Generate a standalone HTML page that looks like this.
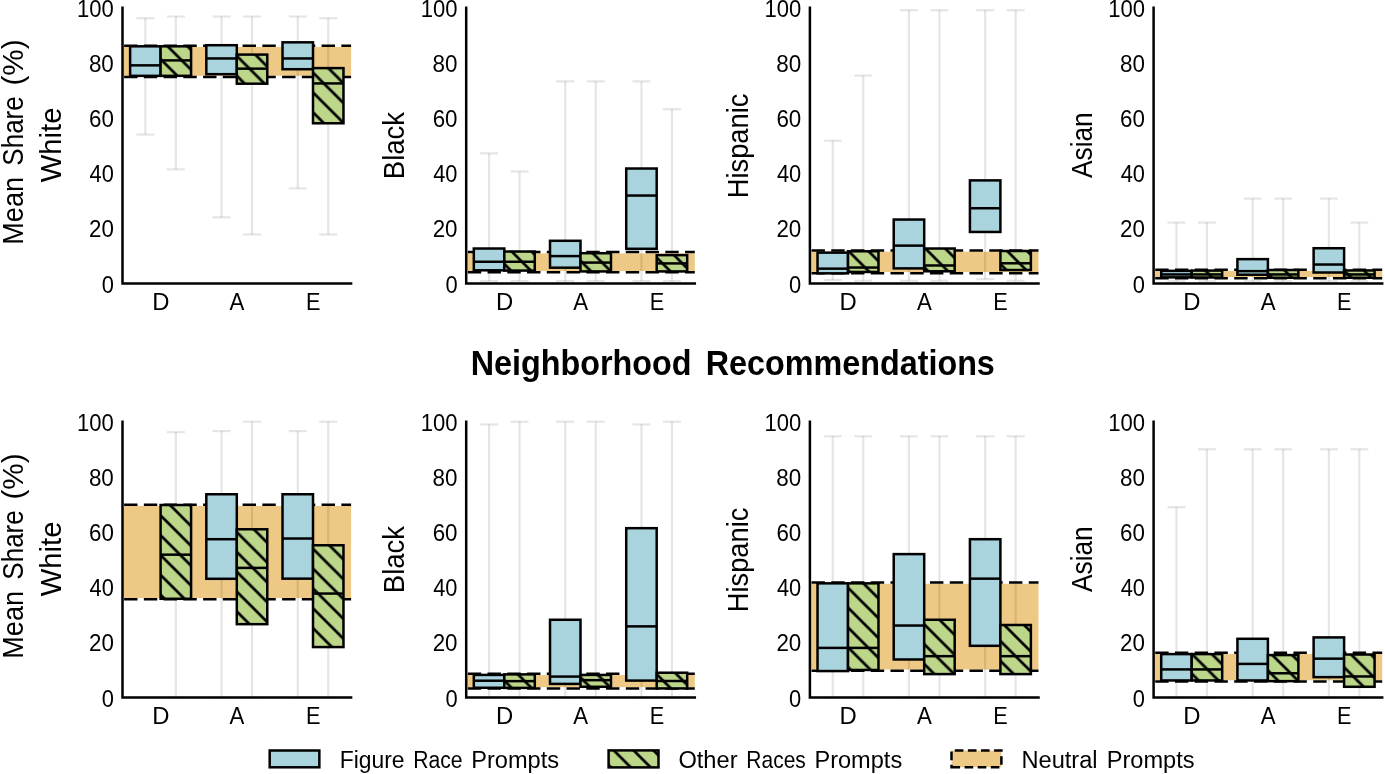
<!DOCTYPE html>
<html><head><meta charset="utf-8"><title>Neighborhood Recommendations</title>
<style>
html,body{margin:0;padding:0;background:#fff;}
body{width:1385px;height:774px;overflow:hidden;}
svg{display:block;will-change:transform;}
text{font-family:'Liberation Sans', sans-serif;fill:#000;}
.t{font-family:'Liberation Sans', sans-serif;font-size:24px;fill:#000;}
.yl{font-family:'Liberation Sans', sans-serif;font-size:28px;fill:#000;}
.lg{font-family:'Liberation Sans', sans-serif;font-size:23px;fill:#000;}
.title{font-family:'Liberation Sans', sans-serif;font-size:33px;font-weight:bold;fill:#000;}
</style></head><body>
<svg width="1385" height="774" viewBox="0 0 1385 774">
<defs><pattern id="hatch" patternUnits="userSpaceOnUse" x="2.3" y="0" width="19.84" height="19.84"><path d="M-4 -4L23.84 23.84 M-4 15.84L4 23.84 M15.84 -4L23.84 4" stroke="#000" stroke-width="2.7" fill="none"/></pattern></defs>
<rect width="1385" height="774" fill="#fff"/>
<rect x="122.5" y="47.02" width="228.6" height="28.81" fill="#edc985"/>
<path d="M145.36 134.59V18.18" stroke="rgba(0,0,0,0.1)" stroke-width="2.2" fill="none"/>
<path d="M136.36 18.18H154.36" stroke="rgba(0,0,0,0.1)" stroke-width="2.2" fill="none"/>
<path d="M136.36 134.59H154.36" stroke="rgba(0,0,0,0.1)" stroke-width="2.2" fill="none"/>
<path d="M175.84 169.35V16.53" stroke="rgba(0,0,0,0.1)" stroke-width="2.2" fill="none"/>
<path d="M166.84 16.53H184.84" stroke="rgba(0,0,0,0.1)" stroke-width="2.2" fill="none"/>
<path d="M166.84 169.35H184.84" stroke="rgba(0,0,0,0.1)" stroke-width="2.2" fill="none"/>
<path d="M221.56 217.35V16.53" stroke="rgba(0,0,0,0.1)" stroke-width="2.2" fill="none"/>
<path d="M212.56 16.53H230.56" stroke="rgba(0,0,0,0.1)" stroke-width="2.2" fill="none"/>
<path d="M212.56 217.35H230.56" stroke="rgba(0,0,0,0.1)" stroke-width="2.2" fill="none"/>
<path d="M252.04 234.45V16.53" stroke="rgba(0,0,0,0.1)" stroke-width="2.2" fill="none"/>
<path d="M243.04 16.53H261.04" stroke="rgba(0,0,0,0.1)" stroke-width="2.2" fill="none"/>
<path d="M243.04 234.45H261.04" stroke="rgba(0,0,0,0.1)" stroke-width="2.2" fill="none"/>
<path d="M297.76 188.38V16.53" stroke="rgba(0,0,0,0.1)" stroke-width="2.2" fill="none"/>
<path d="M288.76 16.53H306.76" stroke="rgba(0,0,0,0.1)" stroke-width="2.2" fill="none"/>
<path d="M288.76 188.38H306.76" stroke="rgba(0,0,0,0.1)" stroke-width="2.2" fill="none"/>
<path d="M328.24 234.45V18.18" stroke="rgba(0,0,0,0.1)" stroke-width="2.2" fill="none"/>
<path d="M319.24 18.18H337.24" stroke="rgba(0,0,0,0.1)" stroke-width="2.2" fill="none"/>
<path d="M319.24 234.45H337.24" stroke="rgba(0,0,0,0.1)" stroke-width="2.2" fill="none"/>
<line x1="124.1" y1="45.77" x2="351.1" y2="45.77" stroke="#000" stroke-width="2.5" stroke-dasharray="13.4 6.35"/>
<line x1="124.1" y1="77.08" x2="351.1" y2="77.08" stroke="#000" stroke-width="2.5" stroke-dasharray="13.4 6.35"/>
<rect x="130.12" y="46.32" width="30.48" height="29.52" fill="#a9d4de"/>
<rect x="130.12" y="46.32" width="30.48" height="29.52" fill="none" stroke="#000" stroke-width="2.5"/>
<line x1="130.12" y1="65.35" x2="160.6" y2="65.35" stroke="#000" stroke-width="2.5"/>
<rect x="160.6" y="46.32" width="30.48" height="29.52" fill="#bcd68a"/>
<rect x="160.6" y="46.32" width="30.48" height="29.52" fill="url(#hatch)"/>
<rect x="160.6" y="46.32" width="30.48" height="29.52" fill="none" stroke="#000" stroke-width="2.5"/>
<line x1="160.6" y1="60.39" x2="191.08" y2="60.39" stroke="#000" stroke-width="2.5"/>
<rect x="206.32" y="45.22" width="30.48" height="28.96" fill="#a9d4de"/>
<rect x="206.32" y="45.22" width="30.48" height="28.96" fill="none" stroke="#000" stroke-width="2.5"/>
<line x1="206.32" y1="58.46" x2="236.8" y2="58.46" stroke="#000" stroke-width="2.5"/>
<rect x="236.8" y="54.59" width="30.48" height="29.1" fill="#bcd68a"/>
<rect x="236.8" y="54.59" width="30.48" height="29.1" fill="url(#hatch)"/>
<rect x="236.8" y="54.59" width="30.48" height="29.1" fill="none" stroke="#000" stroke-width="2.5"/>
<line x1="236.8" y1="68.66" x2="267.28" y2="68.66" stroke="#000" stroke-width="2.5"/>
<rect x="282.52" y="42.32" width="30.48" height="26.9" fill="#a9d4de"/>
<rect x="282.52" y="42.32" width="30.48" height="26.9" fill="none" stroke="#000" stroke-width="2.5"/>
<line x1="282.52" y1="58.46" x2="313" y2="58.46" stroke="#000" stroke-width="2.5"/>
<rect x="313" y="68.11" width="30.48" height="55.17" fill="#bcd68a"/>
<rect x="313" y="68.11" width="30.48" height="55.17" fill="url(#hatch)"/>
<rect x="313" y="68.11" width="30.48" height="55.17" fill="none" stroke="#000" stroke-width="2.5"/>
<line x1="313" y1="83.42" x2="343.48" y2="83.42" stroke="#000" stroke-width="2.5"/>
<path d="M122.5 7.7V283.55H351.1" stroke="#000" stroke-width="2.5" fill="none" stroke-linecap="square"/>
<text transform="translate(101.72 292.6) scale(0.8934 1)" font-size="24.51">0</text>
<text transform="translate(88.98 237.43) scale(0.9116 1)" font-size="24.51">20</text>
<text transform="translate(89.55 182.26) scale(0.8899 1)" font-size="24.51">40</text>
<text transform="translate(88.98 127.09) scale(0.9116 1)" font-size="24.51">60</text>
<text transform="translate(88.89 71.92) scale(0.9151 1)" font-size="24.51">80</text>
<text transform="translate(77.05 16.75) scale(0.9001 1)" font-size="24.51">100</text>
<text transform="translate(152.19 309.8) scale(0.9744 1)" font-size="24.49">D</text>
<text transform="translate(229.59 309.8) scale(0.9094 1)" font-size="24.49">A</text>
<text transform="translate(305.94 309.8) scale(0.8877 1)" font-size="24.49">E</text>
<text transform="translate(22.9 244.66) rotate(-90) scale(0.9107 1)" font-size="29.7">Mean</text>
<text transform="translate(22.9 165.67) rotate(-90) scale(0.8757 1)" font-size="29.7">Share</text>
<text transform="translate(22.9 85.58) rotate(-90) scale(0.9995 1)" font-size="29.7">(%)</text>
<text transform="translate(60.8 182.25) rotate(-90) scale(0.9839 1)" font-size="29.7">White</text>
<rect x="466.2" y="253.35" width="228.6" height="17.64" fill="#edc985"/>
<path d="M489.06 281.07V153.35" stroke="rgba(0,0,0,0.1)" stroke-width="2.2" fill="none"/>
<path d="M480.06 153.35H498.06" stroke="rgba(0,0,0,0.1)" stroke-width="2.2" fill="none"/>
<path d="M480.06 281.07H498.06" stroke="rgba(0,0,0,0.1)" stroke-width="2.2" fill="none"/>
<path d="M519.54 281.07V171.55" stroke="rgba(0,0,0,0.1)" stroke-width="2.2" fill="none"/>
<path d="M510.54 171.55H528.54" stroke="rgba(0,0,0,0.1)" stroke-width="2.2" fill="none"/>
<path d="M510.54 281.07H528.54" stroke="rgba(0,0,0,0.1)" stroke-width="2.2" fill="none"/>
<path d="M565.26 281.07V81.35" stroke="rgba(0,0,0,0.1)" stroke-width="2.2" fill="none"/>
<path d="M556.26 81.35H574.26" stroke="rgba(0,0,0,0.1)" stroke-width="2.2" fill="none"/>
<path d="M556.26 281.07H574.26" stroke="rgba(0,0,0,0.1)" stroke-width="2.2" fill="none"/>
<path d="M595.74 281.07V81.35" stroke="rgba(0,0,0,0.1)" stroke-width="2.2" fill="none"/>
<path d="M586.74 81.35H604.74" stroke="rgba(0,0,0,0.1)" stroke-width="2.2" fill="none"/>
<path d="M586.74 281.07H604.74" stroke="rgba(0,0,0,0.1)" stroke-width="2.2" fill="none"/>
<path d="M641.46 281.07V81.35" stroke="rgba(0,0,0,0.1)" stroke-width="2.2" fill="none"/>
<path d="M632.46 81.35H650.46" stroke="rgba(0,0,0,0.1)" stroke-width="2.2" fill="none"/>
<path d="M632.46 281.07H650.46" stroke="rgba(0,0,0,0.1)" stroke-width="2.2" fill="none"/>
<path d="M671.94 281.07V109.21" stroke="rgba(0,0,0,0.1)" stroke-width="2.2" fill="none"/>
<path d="M662.94 109.21H680.94" stroke="rgba(0,0,0,0.1)" stroke-width="2.2" fill="none"/>
<path d="M662.94 281.07H680.94" stroke="rgba(0,0,0,0.1)" stroke-width="2.2" fill="none"/>
<line x1="467.8" y1="252.1" x2="694.8" y2="252.1" stroke="#000" stroke-width="2.5" stroke-dasharray="13.4 6.35"/>
<line x1="467.8" y1="272.24" x2="694.8" y2="272.24" stroke="#000" stroke-width="2.5" stroke-dasharray="13.4 6.35"/>
<rect x="473.82" y="248.52" width="30.48" height="21.79" fill="#a9d4de"/>
<rect x="473.82" y="248.52" width="30.48" height="21.79" fill="none" stroke="#000" stroke-width="2.5"/>
<line x1="473.82" y1="261.76" x2="504.3" y2="261.76" stroke="#000" stroke-width="2.5"/>
<rect x="504.3" y="251.55" width="30.48" height="19.03" fill="#bcd68a"/>
<rect x="504.3" y="251.55" width="30.48" height="19.03" fill="url(#hatch)"/>
<rect x="504.3" y="251.55" width="30.48" height="19.03" fill="none" stroke="#000" stroke-width="2.5"/>
<line x1="504.3" y1="261.76" x2="534.78" y2="261.76" stroke="#000" stroke-width="2.5"/>
<rect x="550.02" y="240.79" width="30.48" height="26.9" fill="#a9d4de"/>
<rect x="550.02" y="240.79" width="30.48" height="26.9" fill="none" stroke="#000" stroke-width="2.5"/>
<line x1="550.02" y1="256.1" x2="580.5" y2="256.1" stroke="#000" stroke-width="2.5"/>
<rect x="580.5" y="253.21" width="30.48" height="18.21" fill="#bcd68a"/>
<rect x="580.5" y="253.21" width="30.48" height="18.21" fill="url(#hatch)"/>
<rect x="580.5" y="253.21" width="30.48" height="18.21" fill="none" stroke="#000" stroke-width="2.5"/>
<line x1="580.5" y1="262.59" x2="610.98" y2="262.59" stroke="#000" stroke-width="2.5"/>
<rect x="626.22" y="168.52" width="30.48" height="80.27" fill="#a9d4de"/>
<rect x="626.22" y="168.52" width="30.48" height="80.27" fill="none" stroke="#000" stroke-width="2.5"/>
<line x1="626.22" y1="195.55" x2="656.7" y2="195.55" stroke="#000" stroke-width="2.5"/>
<rect x="656.7" y="255.14" width="30.48" height="16.28" fill="#bcd68a"/>
<rect x="656.7" y="255.14" width="30.48" height="16.28" fill="url(#hatch)"/>
<rect x="656.7" y="255.14" width="30.48" height="16.28" fill="none" stroke="#000" stroke-width="2.5"/>
<line x1="656.7" y1="263.41" x2="687.18" y2="263.41" stroke="#000" stroke-width="2.5"/>
<path d="M466.2 7.7V283.55H694.8" stroke="#000" stroke-width="2.5" fill="none" stroke-linecap="square"/>
<text transform="translate(445.42 292.6) scale(0.8934 1)" font-size="24.51">0</text>
<text transform="translate(432.68 237.43) scale(0.9116 1)" font-size="24.51">20</text>
<text transform="translate(433.25 182.26) scale(0.8899 1)" font-size="24.51">40</text>
<text transform="translate(432.68 127.09) scale(0.9116 1)" font-size="24.51">60</text>
<text transform="translate(432.59 71.92) scale(0.9151 1)" font-size="24.51">80</text>
<text transform="translate(420.75 16.75) scale(0.9001 1)" font-size="24.51">100</text>
<text transform="translate(495.89 309.8) scale(0.9744 1)" font-size="24.49">D</text>
<text transform="translate(573.29 309.8) scale(0.9094 1)" font-size="24.49">A</text>
<text transform="translate(649.64 309.8) scale(0.8877 1)" font-size="24.49">E</text>
<text transform="translate(404.2 179.2) rotate(-90) scale(0.9268 1)" font-size="29.7">Black</text>
<rect x="809.9" y="251.7" width="228.6" height="20.4" fill="#edc985"/>
<path d="M832.76 279.96V140.66" stroke="rgba(0,0,0,0.1)" stroke-width="2.2" fill="none"/>
<path d="M823.76 140.66H841.76" stroke="rgba(0,0,0,0.1)" stroke-width="2.2" fill="none"/>
<path d="M823.76 279.96H841.76" stroke="rgba(0,0,0,0.1)" stroke-width="2.2" fill="none"/>
<path d="M863.24 280.79V75.56" stroke="rgba(0,0,0,0.1)" stroke-width="2.2" fill="none"/>
<path d="M854.24 75.56H872.24" stroke="rgba(0,0,0,0.1)" stroke-width="2.2" fill="none"/>
<path d="M854.24 280.79H872.24" stroke="rgba(0,0,0,0.1)" stroke-width="2.2" fill="none"/>
<path d="M908.96 280.79V10.18" stroke="rgba(0,0,0,0.1)" stroke-width="2.2" fill="none"/>
<path d="M899.96 10.18H917.96" stroke="rgba(0,0,0,0.1)" stroke-width="2.2" fill="none"/>
<path d="M899.96 280.79H917.96" stroke="rgba(0,0,0,0.1)" stroke-width="2.2" fill="none"/>
<path d="M939.44 280.79V10.18" stroke="rgba(0,0,0,0.1)" stroke-width="2.2" fill="none"/>
<path d="M930.44 10.18H948.44" stroke="rgba(0,0,0,0.1)" stroke-width="2.2" fill="none"/>
<path d="M930.44 280.79H948.44" stroke="rgba(0,0,0,0.1)" stroke-width="2.2" fill="none"/>
<path d="M985.16 279.14V10.18" stroke="rgba(0,0,0,0.1)" stroke-width="2.2" fill="none"/>
<path d="M976.16 10.18H994.16" stroke="rgba(0,0,0,0.1)" stroke-width="2.2" fill="none"/>
<path d="M976.16 279.14H994.16" stroke="rgba(0,0,0,0.1)" stroke-width="2.2" fill="none"/>
<path d="M1015.64 280.79V10.18" stroke="rgba(0,0,0,0.1)" stroke-width="2.2" fill="none"/>
<path d="M1006.64 10.18H1024.64" stroke="rgba(0,0,0,0.1)" stroke-width="2.2" fill="none"/>
<path d="M1006.64 280.79H1024.64" stroke="rgba(0,0,0,0.1)" stroke-width="2.2" fill="none"/>
<line x1="811.5" y1="250.45" x2="1038.5" y2="250.45" stroke="#000" stroke-width="2.5" stroke-dasharray="13.4 6.35"/>
<line x1="811.5" y1="273.34" x2="1038.5" y2="273.34" stroke="#000" stroke-width="2.5" stroke-dasharray="13.4 6.35"/>
<rect x="817.52" y="252.65" width="30.48" height="20.69" fill="#a9d4de"/>
<rect x="817.52" y="252.65" width="30.48" height="20.69" fill="none" stroke="#000" stroke-width="2.5"/>
<line x1="817.52" y1="268.65" x2="848" y2="268.65" stroke="#000" stroke-width="2.5"/>
<rect x="848" y="251.28" width="30.48" height="20.69" fill="#bcd68a"/>
<rect x="848" y="251.28" width="30.48" height="20.69" fill="url(#hatch)"/>
<rect x="848" y="251.28" width="30.48" height="20.69" fill="none" stroke="#000" stroke-width="2.5"/>
<line x1="848" y1="267.55" x2="878.48" y2="267.55" stroke="#000" stroke-width="2.5"/>
<rect x="893.72" y="219.55" width="30.48" height="48.83" fill="#a9d4de"/>
<rect x="893.72" y="219.55" width="30.48" height="48.83" fill="none" stroke="#000" stroke-width="2.5"/>
<line x1="893.72" y1="245.62" x2="924.2" y2="245.62" stroke="#000" stroke-width="2.5"/>
<rect x="924.2" y="248.52" width="30.48" height="22.76" fill="#bcd68a"/>
<rect x="924.2" y="248.52" width="30.48" height="22.76" fill="url(#hatch)"/>
<rect x="924.2" y="248.52" width="30.48" height="22.76" fill="none" stroke="#000" stroke-width="2.5"/>
<line x1="924.2" y1="265.48" x2="954.68" y2="265.48" stroke="#000" stroke-width="2.5"/>
<rect x="969.92" y="180.38" width="30.48" height="51.58" fill="#a9d4de"/>
<rect x="969.92" y="180.38" width="30.48" height="51.58" fill="none" stroke="#000" stroke-width="2.5"/>
<line x1="969.92" y1="208.24" x2="1000.4" y2="208.24" stroke="#000" stroke-width="2.5"/>
<rect x="1000.4" y="251" width="30.48" height="19.03" fill="#bcd68a"/>
<rect x="1000.4" y="251" width="30.48" height="19.03" fill="url(#hatch)"/>
<rect x="1000.4" y="251" width="30.48" height="19.03" fill="none" stroke="#000" stroke-width="2.5"/>
<line x1="1000.4" y1="263.28" x2="1030.88" y2="263.28" stroke="#000" stroke-width="2.5"/>
<path d="M809.9 7.7V283.55H1038.5" stroke="#000" stroke-width="2.5" fill="none" stroke-linecap="square"/>
<text transform="translate(789.12 292.6) scale(0.8934 1)" font-size="24.51">0</text>
<text transform="translate(776.38 237.43) scale(0.9116 1)" font-size="24.51">20</text>
<text transform="translate(776.95 182.26) scale(0.8899 1)" font-size="24.51">40</text>
<text transform="translate(776.38 127.09) scale(0.9116 1)" font-size="24.51">60</text>
<text transform="translate(776.29 71.92) scale(0.9151 1)" font-size="24.51">80</text>
<text transform="translate(764.45 16.75) scale(0.9001 1)" font-size="24.51">100</text>
<text transform="translate(839.59 309.8) scale(0.9744 1)" font-size="24.49">D</text>
<text transform="translate(916.99 309.8) scale(0.9094 1)" font-size="24.49">A</text>
<text transform="translate(993.34 309.8) scale(0.8877 1)" font-size="24.49">E</text>
<text transform="translate(747.9 198.18) rotate(-90) scale(0.9180 1)" font-size="29.7">Hispanic</text>
<rect x="1153.6" y="271.01" width="228.6" height="6.05" fill="#edc985"/>
<path d="M1176.46 281.34V222.59" stroke="rgba(0,0,0,0.1)" stroke-width="2.2" fill="none"/>
<path d="M1167.46 222.59H1185.46" stroke="rgba(0,0,0,0.1)" stroke-width="2.2" fill="none"/>
<path d="M1167.46 281.34H1185.46" stroke="rgba(0,0,0,0.1)" stroke-width="2.2" fill="none"/>
<path d="M1206.94 281.34V222.59" stroke="rgba(0,0,0,0.1)" stroke-width="2.2" fill="none"/>
<path d="M1197.94 222.59H1215.94" stroke="rgba(0,0,0,0.1)" stroke-width="2.2" fill="none"/>
<path d="M1197.94 281.34H1215.94" stroke="rgba(0,0,0,0.1)" stroke-width="2.2" fill="none"/>
<path d="M1252.66 281.34V198.59" stroke="rgba(0,0,0,0.1)" stroke-width="2.2" fill="none"/>
<path d="M1243.66 198.59H1261.66" stroke="rgba(0,0,0,0.1)" stroke-width="2.2" fill="none"/>
<path d="M1243.66 281.34H1261.66" stroke="rgba(0,0,0,0.1)" stroke-width="2.2" fill="none"/>
<path d="M1283.14 281.34V198.59" stroke="rgba(0,0,0,0.1)" stroke-width="2.2" fill="none"/>
<path d="M1274.14 198.59H1292.14" stroke="rgba(0,0,0,0.1)" stroke-width="2.2" fill="none"/>
<path d="M1274.14 281.34H1292.14" stroke="rgba(0,0,0,0.1)" stroke-width="2.2" fill="none"/>
<path d="M1328.86 281.34V198.59" stroke="rgba(0,0,0,0.1)" stroke-width="2.2" fill="none"/>
<path d="M1319.86 198.59H1337.86" stroke="rgba(0,0,0,0.1)" stroke-width="2.2" fill="none"/>
<path d="M1319.86 281.34H1337.86" stroke="rgba(0,0,0,0.1)" stroke-width="2.2" fill="none"/>
<path d="M1359.34 281.34V222.59" stroke="rgba(0,0,0,0.1)" stroke-width="2.2" fill="none"/>
<path d="M1350.34 222.59H1368.34" stroke="rgba(0,0,0,0.1)" stroke-width="2.2" fill="none"/>
<path d="M1350.34 281.34H1368.34" stroke="rgba(0,0,0,0.1)" stroke-width="2.2" fill="none"/>
<line x1="1155.2" y1="269.76" x2="1382.2" y2="269.76" stroke="#000" stroke-width="2.5" stroke-dasharray="13.4 6.35"/>
<line x1="1155.2" y1="278.31" x2="1382.2" y2="278.31" stroke="#000" stroke-width="2.5" stroke-dasharray="13.4 6.35"/>
<rect x="1161.22" y="270.86" width="30.48" height="6.48" fill="#a9d4de"/>
<rect x="1161.22" y="270.86" width="30.48" height="6.48" fill="none" stroke="#000" stroke-width="2.5"/>
<line x1="1161.22" y1="274.45" x2="1191.7" y2="274.45" stroke="#000" stroke-width="2.5"/>
<rect x="1191.7" y="270.59" width="30.48" height="6.9" fill="#bcd68a"/>
<rect x="1191.7" y="270.59" width="30.48" height="6.9" fill="url(#hatch)"/>
<rect x="1191.7" y="270.59" width="30.48" height="6.9" fill="none" stroke="#000" stroke-width="2.5"/>
<line x1="1191.7" y1="274.45" x2="1222.18" y2="274.45" stroke="#000" stroke-width="2.5"/>
<rect x="1237.42" y="259.14" width="30.48" height="15.59" fill="#a9d4de"/>
<rect x="1237.42" y="259.14" width="30.48" height="15.59" fill="none" stroke="#000" stroke-width="2.5"/>
<line x1="1237.42" y1="271.14" x2="1267.9" y2="271.14" stroke="#000" stroke-width="2.5"/>
<rect x="1267.9" y="270.03" width="30.48" height="7.72" fill="#bcd68a"/>
<rect x="1267.9" y="270.03" width="30.48" height="7.72" fill="url(#hatch)"/>
<rect x="1267.9" y="270.03" width="30.48" height="7.72" fill="none" stroke="#000" stroke-width="2.5"/>
<line x1="1267.9" y1="274.45" x2="1298.38" y2="274.45" stroke="#000" stroke-width="2.5"/>
<rect x="1313.62" y="248.24" width="30.48" height="24.27" fill="#a9d4de"/>
<rect x="1313.62" y="248.24" width="30.48" height="24.27" fill="none" stroke="#000" stroke-width="2.5"/>
<line x1="1313.62" y1="264.52" x2="1344.1" y2="264.52" stroke="#000" stroke-width="2.5"/>
<rect x="1344.1" y="270.45" width="30.48" height="7.31" fill="#bcd68a"/>
<rect x="1344.1" y="270.45" width="30.48" height="7.31" fill="url(#hatch)"/>
<rect x="1344.1" y="270.45" width="30.48" height="7.31" fill="none" stroke="#000" stroke-width="2.5"/>
<line x1="1344.1" y1="274.45" x2="1374.58" y2="274.45" stroke="#000" stroke-width="2.5"/>
<path d="M1153.6 7.7V283.55H1382.2" stroke="#000" stroke-width="2.5" fill="none" stroke-linecap="square"/>
<text transform="translate(1132.82 292.6) scale(0.8934 1)" font-size="24.51">0</text>
<text transform="translate(1120.08 237.43) scale(0.9116 1)" font-size="24.51">20</text>
<text transform="translate(1120.65 182.26) scale(0.8899 1)" font-size="24.51">40</text>
<text transform="translate(1120.08 127.09) scale(0.9116 1)" font-size="24.51">60</text>
<text transform="translate(1119.99 71.92) scale(0.9151 1)" font-size="24.51">80</text>
<text transform="translate(1108.15 16.75) scale(0.9001 1)" font-size="24.51">100</text>
<text transform="translate(1183.29 309.8) scale(0.9744 1)" font-size="24.49">D</text>
<text transform="translate(1260.69 309.8) scale(0.9094 1)" font-size="24.49">A</text>
<text transform="translate(1337.04 309.8) scale(0.8877 1)" font-size="24.49">E</text>
<text transform="translate(1091.6 178.03) rotate(-90) scale(0.8854 1)" font-size="29.7">Asian</text>
<rect x="122.5" y="505.98" width="228.6" height="92.12" fill="#edc985"/>
<path d="M175.84 697.55V432.18" stroke="rgba(0,0,0,0.1)" stroke-width="2.2" fill="none"/>
<path d="M166.84 432.18H184.84" stroke="rgba(0,0,0,0.1)" stroke-width="2.2" fill="none"/>
<path d="M166.84 697.55H184.84" stroke="rgba(0,0,0,0.1)" stroke-width="2.2" fill="none"/>
<path d="M221.56 697.55V431.08" stroke="rgba(0,0,0,0.1)" stroke-width="2.2" fill="none"/>
<path d="M212.56 431.08H230.56" stroke="rgba(0,0,0,0.1)" stroke-width="2.2" fill="none"/>
<path d="M212.56 697.55H230.56" stroke="rgba(0,0,0,0.1)" stroke-width="2.2" fill="none"/>
<path d="M252.04 697.55V421.7" stroke="rgba(0,0,0,0.1)" stroke-width="2.2" fill="none"/>
<path d="M243.04 421.7H261.04" stroke="rgba(0,0,0,0.1)" stroke-width="2.2" fill="none"/>
<path d="M243.04 697.55H261.04" stroke="rgba(0,0,0,0.1)" stroke-width="2.2" fill="none"/>
<path d="M297.76 697.55V431.08" stroke="rgba(0,0,0,0.1)" stroke-width="2.2" fill="none"/>
<path d="M288.76 431.08H306.76" stroke="rgba(0,0,0,0.1)" stroke-width="2.2" fill="none"/>
<path d="M288.76 697.55H306.76" stroke="rgba(0,0,0,0.1)" stroke-width="2.2" fill="none"/>
<path d="M328.24 697.55V421.7" stroke="rgba(0,0,0,0.1)" stroke-width="2.2" fill="none"/>
<path d="M319.24 421.7H337.24" stroke="rgba(0,0,0,0.1)" stroke-width="2.2" fill="none"/>
<path d="M319.24 697.55H337.24" stroke="rgba(0,0,0,0.1)" stroke-width="2.2" fill="none"/>
<line x1="124.1" y1="504.73" x2="351.1" y2="504.73" stroke="#000" stroke-width="2.5" stroke-dasharray="13.4 6.35"/>
<line x1="124.1" y1="599.35" x2="351.1" y2="599.35" stroke="#000" stroke-width="2.5" stroke-dasharray="13.4 6.35"/>
<rect x="160.6" y="505.01" width="30.48" height="93.79" fill="#bcd68a"/>
<rect x="160.6" y="505.01" width="30.48" height="93.79" fill="url(#hatch)"/>
<rect x="160.6" y="505.01" width="30.48" height="93.79" fill="none" stroke="#000" stroke-width="2.5"/>
<line x1="160.6" y1="554.66" x2="191.08" y2="554.66" stroke="#000" stroke-width="2.5"/>
<rect x="206.32" y="494.25" width="30.48" height="84.55" fill="#a9d4de"/>
<rect x="206.32" y="494.25" width="30.48" height="84.55" fill="none" stroke="#000" stroke-width="2.5"/>
<line x1="206.32" y1="539.21" x2="236.8" y2="539.21" stroke="#000" stroke-width="2.5"/>
<rect x="236.8" y="529.28" width="30.48" height="94.89" fill="#bcd68a"/>
<rect x="236.8" y="529.28" width="30.48" height="94.89" fill="url(#hatch)"/>
<rect x="236.8" y="529.28" width="30.48" height="94.89" fill="none" stroke="#000" stroke-width="2.5"/>
<line x1="236.8" y1="567.9" x2="267.28" y2="567.9" stroke="#000" stroke-width="2.5"/>
<rect x="282.52" y="494.25" width="30.48" height="84.41" fill="#a9d4de"/>
<rect x="282.52" y="494.25" width="30.48" height="84.41" fill="none" stroke="#000" stroke-width="2.5"/>
<line x1="282.52" y1="538.52" x2="313" y2="538.52" stroke="#000" stroke-width="2.5"/>
<rect x="313" y="545.28" width="30.48" height="101.79" fill="#bcd68a"/>
<rect x="313" y="545.28" width="30.48" height="101.79" fill="url(#hatch)"/>
<rect x="313" y="545.28" width="30.48" height="101.79" fill="none" stroke="#000" stroke-width="2.5"/>
<line x1="313" y1="593.55" x2="343.48" y2="593.55" stroke="#000" stroke-width="2.5"/>
<path d="M122.5 421.7V697.55H351.1" stroke="#000" stroke-width="2.5" fill="none" stroke-linecap="square"/>
<text transform="translate(101.72 706.6) scale(0.8934 1)" font-size="24.51">0</text>
<text transform="translate(88.98 651.43) scale(0.9116 1)" font-size="24.51">20</text>
<text transform="translate(89.55 596.26) scale(0.8899 1)" font-size="24.51">40</text>
<text transform="translate(88.98 541.09) scale(0.9116 1)" font-size="24.51">60</text>
<text transform="translate(88.89 485.92) scale(0.9151 1)" font-size="24.51">80</text>
<text transform="translate(77.05 430.75) scale(0.9001 1)" font-size="24.51">100</text>
<text transform="translate(152.19 723.8) scale(0.9744 1)" font-size="24.49">D</text>
<text transform="translate(229.59 723.8) scale(0.9094 1)" font-size="24.49">A</text>
<text transform="translate(305.94 723.8) scale(0.8877 1)" font-size="24.49">E</text>
<text transform="translate(22.9 658.66) rotate(-90) scale(0.9107 1)" font-size="29.7">Mean</text>
<text transform="translate(22.9 579.67) rotate(-90) scale(0.8757 1)" font-size="29.7">Share</text>
<text transform="translate(22.9 499.58) rotate(-90) scale(0.9995 1)" font-size="29.7">(%)</text>
<text transform="translate(60.8 596.25) rotate(-90) scale(0.9839 1)" font-size="29.7">White</text>
<rect x="466.2" y="675.08" width="228.6" height="12.12" fill="#edc985"/>
<path d="M489.06 697.55V424.46" stroke="rgba(0,0,0,0.1)" stroke-width="2.2" fill="none"/>
<path d="M480.06 424.46H498.06" stroke="rgba(0,0,0,0.1)" stroke-width="2.2" fill="none"/>
<path d="M480.06 697.55H498.06" stroke="rgba(0,0,0,0.1)" stroke-width="2.2" fill="none"/>
<path d="M519.54 697.55V421.7" stroke="rgba(0,0,0,0.1)" stroke-width="2.2" fill="none"/>
<path d="M510.54 421.7H528.54" stroke="rgba(0,0,0,0.1)" stroke-width="2.2" fill="none"/>
<path d="M510.54 697.55H528.54" stroke="rgba(0,0,0,0.1)" stroke-width="2.2" fill="none"/>
<path d="M565.26 697.55V421.7" stroke="rgba(0,0,0,0.1)" stroke-width="2.2" fill="none"/>
<path d="M556.26 421.7H574.26" stroke="rgba(0,0,0,0.1)" stroke-width="2.2" fill="none"/>
<path d="M556.26 697.55H574.26" stroke="rgba(0,0,0,0.1)" stroke-width="2.2" fill="none"/>
<path d="M595.74 697.55V421.7" stroke="rgba(0,0,0,0.1)" stroke-width="2.2" fill="none"/>
<path d="M586.74 421.7H604.74" stroke="rgba(0,0,0,0.1)" stroke-width="2.2" fill="none"/>
<path d="M586.74 697.55H604.74" stroke="rgba(0,0,0,0.1)" stroke-width="2.2" fill="none"/>
<path d="M641.46 697.55V424.46" stroke="rgba(0,0,0,0.1)" stroke-width="2.2" fill="none"/>
<path d="M632.46 424.46H650.46" stroke="rgba(0,0,0,0.1)" stroke-width="2.2" fill="none"/>
<path d="M632.46 697.55H650.46" stroke="rgba(0,0,0,0.1)" stroke-width="2.2" fill="none"/>
<path d="M671.94 697.55V421.7" stroke="rgba(0,0,0,0.1)" stroke-width="2.2" fill="none"/>
<path d="M662.94 421.7H680.94" stroke="rgba(0,0,0,0.1)" stroke-width="2.2" fill="none"/>
<path d="M662.94 697.55H680.94" stroke="rgba(0,0,0,0.1)" stroke-width="2.2" fill="none"/>
<line x1="467.8" y1="673.83" x2="694.8" y2="673.83" stroke="#000" stroke-width="2.5" stroke-dasharray="13.4 6.35"/>
<line x1="467.8" y1="688.45" x2="694.8" y2="688.45" stroke="#000" stroke-width="2.5" stroke-dasharray="13.4 6.35"/>
<rect x="473.82" y="674.93" width="30.48" height="12.83" fill="#a9d4de"/>
<rect x="473.82" y="674.93" width="30.48" height="12.83" fill="none" stroke="#000" stroke-width="2.5"/>
<line x1="473.82" y1="680.72" x2="504.3" y2="680.72" stroke="#000" stroke-width="2.5"/>
<rect x="504.3" y="674.38" width="30.48" height="13.52" fill="#bcd68a"/>
<rect x="504.3" y="674.38" width="30.48" height="13.52" fill="url(#hatch)"/>
<rect x="504.3" y="674.38" width="30.48" height="13.52" fill="none" stroke="#000" stroke-width="2.5"/>
<line x1="504.3" y1="681.14" x2="534.78" y2="681.14" stroke="#000" stroke-width="2.5"/>
<rect x="550.02" y="619.76" width="30.48" height="64.14" fill="#a9d4de"/>
<rect x="550.02" y="619.76" width="30.48" height="64.14" fill="none" stroke="#000" stroke-width="2.5"/>
<line x1="550.02" y1="676.59" x2="580.5" y2="676.59" stroke="#000" stroke-width="2.5"/>
<rect x="580.5" y="674.93" width="30.48" height="11.86" fill="#bcd68a"/>
<rect x="580.5" y="674.93" width="30.48" height="11.86" fill="url(#hatch)"/>
<rect x="580.5" y="674.93" width="30.48" height="11.86" fill="none" stroke="#000" stroke-width="2.5"/>
<line x1="580.5" y1="680.17" x2="610.98" y2="680.17" stroke="#000" stroke-width="2.5"/>
<rect x="626.22" y="528.18" width="30.48" height="152.41" fill="#a9d4de"/>
<rect x="626.22" y="528.18" width="30.48" height="152.41" fill="none" stroke="#000" stroke-width="2.5"/>
<line x1="626.22" y1="626.38" x2="656.7" y2="626.38" stroke="#000" stroke-width="2.5"/>
<rect x="656.7" y="672.72" width="30.48" height="15.72" fill="#bcd68a"/>
<rect x="656.7" y="672.72" width="30.48" height="15.72" fill="url(#hatch)"/>
<rect x="656.7" y="672.72" width="30.48" height="15.72" fill="none" stroke="#000" stroke-width="2.5"/>
<line x1="656.7" y1="681" x2="687.18" y2="681" stroke="#000" stroke-width="2.5"/>
<path d="M466.2 421.7V697.55H694.8" stroke="#000" stroke-width="2.5" fill="none" stroke-linecap="square"/>
<text transform="translate(445.42 706.6) scale(0.8934 1)" font-size="24.51">0</text>
<text transform="translate(432.68 651.43) scale(0.9116 1)" font-size="24.51">20</text>
<text transform="translate(433.25 596.26) scale(0.8899 1)" font-size="24.51">40</text>
<text transform="translate(432.68 541.09) scale(0.9116 1)" font-size="24.51">60</text>
<text transform="translate(432.59 485.92) scale(0.9151 1)" font-size="24.51">80</text>
<text transform="translate(420.75 430.75) scale(0.9001 1)" font-size="24.51">100</text>
<text transform="translate(495.89 723.8) scale(0.9744 1)" font-size="24.49">D</text>
<text transform="translate(573.29 723.8) scale(0.9094 1)" font-size="24.49">A</text>
<text transform="translate(649.64 723.8) scale(0.8877 1)" font-size="24.49">E</text>
<text transform="translate(404.2 593.2) rotate(-90) scale(0.9268 1)" font-size="29.7">Black</text>
<rect x="809.9" y="583.77" width="228.6" height="85.77" fill="#edc985"/>
<path d="M832.76 697.55V436.32" stroke="rgba(0,0,0,0.1)" stroke-width="2.2" fill="none"/>
<path d="M823.76 436.32H841.76" stroke="rgba(0,0,0,0.1)" stroke-width="2.2" fill="none"/>
<path d="M823.76 697.55H841.76" stroke="rgba(0,0,0,0.1)" stroke-width="2.2" fill="none"/>
<path d="M863.24 697.55V436.32" stroke="rgba(0,0,0,0.1)" stroke-width="2.2" fill="none"/>
<path d="M854.24 436.32H872.24" stroke="rgba(0,0,0,0.1)" stroke-width="2.2" fill="none"/>
<path d="M854.24 697.55H872.24" stroke="rgba(0,0,0,0.1)" stroke-width="2.2" fill="none"/>
<path d="M908.96 697.55V436.32" stroke="rgba(0,0,0,0.1)" stroke-width="2.2" fill="none"/>
<path d="M899.96 436.32H917.96" stroke="rgba(0,0,0,0.1)" stroke-width="2.2" fill="none"/>
<path d="M899.96 697.55H917.96" stroke="rgba(0,0,0,0.1)" stroke-width="2.2" fill="none"/>
<path d="M939.44 697.55V436.32" stroke="rgba(0,0,0,0.1)" stroke-width="2.2" fill="none"/>
<path d="M930.44 436.32H948.44" stroke="rgba(0,0,0,0.1)" stroke-width="2.2" fill="none"/>
<path d="M930.44 697.55H948.44" stroke="rgba(0,0,0,0.1)" stroke-width="2.2" fill="none"/>
<path d="M985.16 697.55V436.32" stroke="rgba(0,0,0,0.1)" stroke-width="2.2" fill="none"/>
<path d="M976.16 436.32H994.16" stroke="rgba(0,0,0,0.1)" stroke-width="2.2" fill="none"/>
<path d="M976.16 697.55H994.16" stroke="rgba(0,0,0,0.1)" stroke-width="2.2" fill="none"/>
<path d="M1015.64 697.55V436.32" stroke="rgba(0,0,0,0.1)" stroke-width="2.2" fill="none"/>
<path d="M1006.64 436.32H1024.64" stroke="rgba(0,0,0,0.1)" stroke-width="2.2" fill="none"/>
<path d="M1006.64 697.55H1024.64" stroke="rgba(0,0,0,0.1)" stroke-width="2.2" fill="none"/>
<line x1="811.5" y1="582.52" x2="1038.5" y2="582.52" stroke="#000" stroke-width="2.5" stroke-dasharray="13.4 6.35"/>
<line x1="811.5" y1="670.79" x2="1038.5" y2="670.79" stroke="#000" stroke-width="2.5" stroke-dasharray="13.4 6.35"/>
<rect x="817.52" y="583.35" width="30.48" height="87.72" fill="#a9d4de"/>
<rect x="817.52" y="583.35" width="30.48" height="87.72" fill="none" stroke="#000" stroke-width="2.5"/>
<line x1="817.52" y1="647.9" x2="848" y2="647.9" stroke="#000" stroke-width="2.5"/>
<rect x="848" y="583.35" width="30.48" height="86.62" fill="#bcd68a"/>
<rect x="848" y="583.35" width="30.48" height="86.62" fill="url(#hatch)"/>
<rect x="848" y="583.35" width="30.48" height="86.62" fill="none" stroke="#000" stroke-width="2.5"/>
<line x1="848" y1="647.9" x2="878.48" y2="647.9" stroke="#000" stroke-width="2.5"/>
<rect x="893.72" y="554.11" width="30.48" height="105.37" fill="#a9d4de"/>
<rect x="893.72" y="554.11" width="30.48" height="105.37" fill="none" stroke="#000" stroke-width="2.5"/>
<line x1="893.72" y1="625.55" x2="924.2" y2="625.55" stroke="#000" stroke-width="2.5"/>
<rect x="924.2" y="619.76" width="30.48" height="54.34" fill="#bcd68a"/>
<rect x="924.2" y="619.76" width="30.48" height="54.34" fill="url(#hatch)"/>
<rect x="924.2" y="619.76" width="30.48" height="54.34" fill="none" stroke="#000" stroke-width="2.5"/>
<line x1="924.2" y1="656.17" x2="954.68" y2="656.17" stroke="#000" stroke-width="2.5"/>
<rect x="969.92" y="539.21" width="30.48" height="106.62" fill="#a9d4de"/>
<rect x="969.92" y="539.21" width="30.48" height="106.62" fill="none" stroke="#000" stroke-width="2.5"/>
<line x1="969.92" y1="578.66" x2="1000.4" y2="578.66" stroke="#000" stroke-width="2.5"/>
<rect x="1000.4" y="625" width="30.48" height="49.1" fill="#bcd68a"/>
<rect x="1000.4" y="625" width="30.48" height="49.1" fill="url(#hatch)"/>
<rect x="1000.4" y="625" width="30.48" height="49.1" fill="none" stroke="#000" stroke-width="2.5"/>
<line x1="1000.4" y1="656.17" x2="1030.88" y2="656.17" stroke="#000" stroke-width="2.5"/>
<path d="M809.9 421.7V697.55H1038.5" stroke="#000" stroke-width="2.5" fill="none" stroke-linecap="square"/>
<text transform="translate(789.12 706.6) scale(0.8934 1)" font-size="24.51">0</text>
<text transform="translate(776.38 651.43) scale(0.9116 1)" font-size="24.51">20</text>
<text transform="translate(776.95 596.26) scale(0.8899 1)" font-size="24.51">40</text>
<text transform="translate(776.38 541.09) scale(0.9116 1)" font-size="24.51">60</text>
<text transform="translate(776.29 485.92) scale(0.9151 1)" font-size="24.51">80</text>
<text transform="translate(764.45 430.75) scale(0.9001 1)" font-size="24.51">100</text>
<text transform="translate(839.59 723.8) scale(0.9744 1)" font-size="24.49">D</text>
<text transform="translate(916.99 723.8) scale(0.9094 1)" font-size="24.49">A</text>
<text transform="translate(993.34 723.8) scale(0.8877 1)" font-size="24.49">E</text>
<text transform="translate(747.9 612.18) rotate(-90) scale(0.9180 1)" font-size="29.7">Hispanic</text>
<rect x="1153.6" y="653.97" width="228.6" height="26.33" fill="#edc985"/>
<path d="M1176.46 697.55V507.21" stroke="rgba(0,0,0,0.1)" stroke-width="2.2" fill="none"/>
<path d="M1167.46 507.21H1185.46" stroke="rgba(0,0,0,0.1)" stroke-width="2.2" fill="none"/>
<path d="M1167.46 697.55H1185.46" stroke="rgba(0,0,0,0.1)" stroke-width="2.2" fill="none"/>
<path d="M1206.94 697.55V449.28" stroke="rgba(0,0,0,0.1)" stroke-width="2.2" fill="none"/>
<path d="M1197.94 449.28H1215.94" stroke="rgba(0,0,0,0.1)" stroke-width="2.2" fill="none"/>
<path d="M1197.94 697.55H1215.94" stroke="rgba(0,0,0,0.1)" stroke-width="2.2" fill="none"/>
<path d="M1252.66 697.55V449.28" stroke="rgba(0,0,0,0.1)" stroke-width="2.2" fill="none"/>
<path d="M1243.66 449.28H1261.66" stroke="rgba(0,0,0,0.1)" stroke-width="2.2" fill="none"/>
<path d="M1243.66 697.55H1261.66" stroke="rgba(0,0,0,0.1)" stroke-width="2.2" fill="none"/>
<path d="M1283.14 697.55V449.28" stroke="rgba(0,0,0,0.1)" stroke-width="2.2" fill="none"/>
<path d="M1274.14 449.28H1292.14" stroke="rgba(0,0,0,0.1)" stroke-width="2.2" fill="none"/>
<path d="M1274.14 697.55H1292.14" stroke="rgba(0,0,0,0.1)" stroke-width="2.2" fill="none"/>
<path d="M1328.86 697.55V449.28" stroke="rgba(0,0,0,0.1)" stroke-width="2.2" fill="none"/>
<path d="M1319.86 449.28H1337.86" stroke="rgba(0,0,0,0.1)" stroke-width="2.2" fill="none"/>
<path d="M1319.86 697.55H1337.86" stroke="rgba(0,0,0,0.1)" stroke-width="2.2" fill="none"/>
<path d="M1359.34 697.55V449.28" stroke="rgba(0,0,0,0.1)" stroke-width="2.2" fill="none"/>
<path d="M1350.34 449.28H1368.34" stroke="rgba(0,0,0,0.1)" stroke-width="2.2" fill="none"/>
<path d="M1350.34 697.55H1368.34" stroke="rgba(0,0,0,0.1)" stroke-width="2.2" fill="none"/>
<line x1="1155.2" y1="652.72" x2="1382.2" y2="652.72" stroke="#000" stroke-width="2.5" stroke-dasharray="13.4 6.35"/>
<line x1="1155.2" y1="681.55" x2="1382.2" y2="681.55" stroke="#000" stroke-width="2.5" stroke-dasharray="13.4 6.35"/>
<rect x="1161.22" y="654.1" width="30.48" height="26.34" fill="#a9d4de"/>
<rect x="1161.22" y="654.1" width="30.48" height="26.34" fill="none" stroke="#000" stroke-width="2.5"/>
<line x1="1161.22" y1="669.41" x2="1191.7" y2="669.41" stroke="#000" stroke-width="2.5"/>
<rect x="1191.7" y="654.1" width="30.48" height="26.34" fill="#bcd68a"/>
<rect x="1191.7" y="654.1" width="30.48" height="26.34" fill="url(#hatch)"/>
<rect x="1191.7" y="654.1" width="30.48" height="26.34" fill="none" stroke="#000" stroke-width="2.5"/>
<line x1="1191.7" y1="669.41" x2="1222.18" y2="669.41" stroke="#000" stroke-width="2.5"/>
<rect x="1237.42" y="638.79" width="30.48" height="41.65" fill="#a9d4de"/>
<rect x="1237.42" y="638.79" width="30.48" height="41.65" fill="none" stroke="#000" stroke-width="2.5"/>
<line x1="1237.42" y1="663.9" x2="1267.9" y2="663.9" stroke="#000" stroke-width="2.5"/>
<rect x="1267.9" y="655.07" width="30.48" height="26.07" fill="#bcd68a"/>
<rect x="1267.9" y="655.07" width="30.48" height="26.07" fill="url(#hatch)"/>
<rect x="1267.9" y="655.07" width="30.48" height="26.07" fill="none" stroke="#000" stroke-width="2.5"/>
<line x1="1267.9" y1="673.28" x2="1298.38" y2="673.28" stroke="#000" stroke-width="2.5"/>
<rect x="1313.62" y="637.41" width="30.48" height="39.72" fill="#a9d4de"/>
<rect x="1313.62" y="637.41" width="30.48" height="39.72" fill="none" stroke="#000" stroke-width="2.5"/>
<line x1="1313.62" y1="658.66" x2="1344.1" y2="658.66" stroke="#000" stroke-width="2.5"/>
<rect x="1344.1" y="654.52" width="30.48" height="32.27" fill="#bcd68a"/>
<rect x="1344.1" y="654.52" width="30.48" height="32.27" fill="url(#hatch)"/>
<rect x="1344.1" y="654.52" width="30.48" height="32.27" fill="none" stroke="#000" stroke-width="2.5"/>
<line x1="1344.1" y1="676.45" x2="1374.58" y2="676.45" stroke="#000" stroke-width="2.5"/>
<path d="M1153.6 421.7V697.55H1382.2" stroke="#000" stroke-width="2.5" fill="none" stroke-linecap="square"/>
<text transform="translate(1132.82 706.6) scale(0.8934 1)" font-size="24.51">0</text>
<text transform="translate(1120.08 651.43) scale(0.9116 1)" font-size="24.51">20</text>
<text transform="translate(1120.65 596.26) scale(0.8899 1)" font-size="24.51">40</text>
<text transform="translate(1120.08 541.09) scale(0.9116 1)" font-size="24.51">60</text>
<text transform="translate(1119.99 485.92) scale(0.9151 1)" font-size="24.51">80</text>
<text transform="translate(1108.15 430.75) scale(0.9001 1)" font-size="24.51">100</text>
<text transform="translate(1183.29 723.8) scale(0.9744 1)" font-size="24.49">D</text>
<text transform="translate(1260.69 723.8) scale(0.9094 1)" font-size="24.49">A</text>
<text transform="translate(1337.04 723.8) scale(0.8877 1)" font-size="24.49">E</text>
<text transform="translate(1091.6 592.03) rotate(-90) scale(0.8854 1)" font-size="29.7">Asian</text>
<text transform="translate(470.65 374.9) scale(0.9292 1)" font-size="34.8" font-weight="bold">Neighborhood</text>
<text transform="translate(705.7 374.9) scale(0.9290 1)" font-size="34.8" font-weight="bold">Recommendations</text>
<rect x="269.7" y="750.5" width="49.65" height="16.8" fill="#a9d4de" stroke="#000" stroke-width="2.5"/>
<text transform="translate(339.77 767.9) scale(0.9225 1)" font-size="24.8">Figure</text>
<text transform="translate(413.21 767.9) scale(0.8539 1)" font-size="24.8">Race</text>
<text transform="translate(471.21 767.9) scale(0.9519 1)" font-size="24.8">Prompts</text>
<rect x="608.6" y="750.4" width="49.9" height="17" fill="#bcd68a"/>
<rect x="608.6" y="750.4" width="49.9" height="17" fill="url(#hatch)"/>
<rect x="608.6" y="750.4" width="49.9" height="17" fill="none" stroke="#000" stroke-width="2.5"/>
<text transform="translate(678.38 767.9) scale(0.9544 1)" font-size="24.8">Other</text>
<text transform="translate(746.37 767.9) scale(0.8457 1)" font-size="24.8">Races</text>
<text transform="translate(814.41 767.9) scale(0.9507 1)" font-size="24.8">Prompts</text>
<path d="M951.5 767.3H1001.4V750.4H951.5Z" fill="#edc985" stroke="#000" stroke-width="2.5" stroke-dasharray="8.6 4.5"/>
<text transform="translate(1021.46 767.9) scale(0.9527 1)" font-size="24.8">Neutral</text>
<text transform="translate(1106.71 767.9) scale(0.9519 1)" font-size="24.8">Prompts</text>
</svg>
</body></html>
